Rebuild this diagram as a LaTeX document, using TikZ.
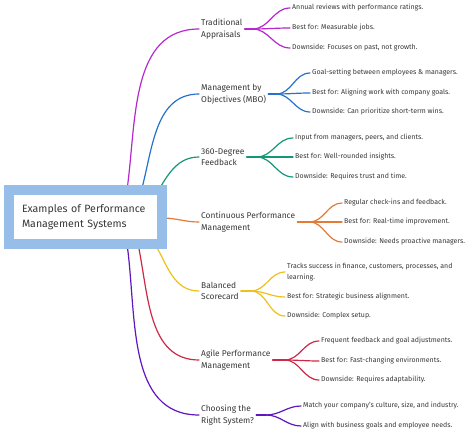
\documentclass[tikz,border=0pt]{standalone}
\usepackage{fontspec}
\setmainfont{Fira Sans}
\usetikzlibrary{backgrounds}
\definecolor{rootBlue}{RGB}{150,190,232}
\definecolor{txtGray}{RGB}{55,55,55}
\definecolor{cTrad}{RGB}{180,40,205}
\definecolor{cMbo}{RGB}{40,112,205}
\definecolor{cDeg}{RGB}{20,150,120}
\definecolor{cCont}{RGB}{228,122,52}
\definecolor{cBsc}{RGB}{238,192,30}
\definecolor{cAgile}{RGB}{205,40,72}
\definecolor{cChoose}{RGB}{95,22,190}

\tikzset{
  rootbox/.style={draw=rootBlue,line width=10pt,fill=white,outer sep=0pt,
    text width=127pt,inner xsep=13pt,minimum height=54pt,align=left,
    text=txtGray,font=\fontsize{10.6}{15}\selectfont},
  cat/.style={anchor=west,align=left,inner sep=2pt,text=txtGray,
    font=\fontsize{8.4}{11.5}\selectfont},
  leaf/.style={anchor=west,align=left,inner sep=2pt,text=txtGray,
    font=\fontsize{7}{10.5}\selectfont},
  branch/.style={line width=1.2pt,line cap=round},
}

\begin{document}
\begin{tikzpicture}[x=1pt,y=-1pt]
  \useasboundingbox (0,0) rectangle (474,434);
  % root
  \node[rootbox] (root) at (85.5,217) {Examples of Performance\\Management Systems};
  % categories
  \node[cat] (trad)   at (199,29)  {Traditional\\Appraisals};
  \node[cat] (mbo)    at (199,94)  {Management by\\Objectives (MBO)};
  \node[cat] (deg)    at (199,157) {360-Degree\\Feedback};
  \node[cat] (cont)   at (199,222) {Continuous Performance\\Management};
  \node[cat] (bsc)    at (199,291) {Balanced\\Scorecard};
  \node[cat] (agile)  at (199,360) {Agile Performance\\Management};
  \node[cat] (choose) at (199,415) {Choosing the\\Right System?};
  % leaves
  \node[leaf] (trad1) at (290,8)  {Annual reviews with performance ratings.};
  \node[leaf] (trad2) at (290,28) {Best for: Measurable jobs.};
  \node[leaf] (trad3) at (290,48) {Downside: Focuses on past, not growth.};
  \node[leaf] (mbo1) at (310,73)  {Goal-setting between employees \& managers.};
  \node[leaf] (mbo2) at (310,93)  {Best for: Aligning work with company goals.};
  \node[leaf] (mbo3) at (310,112) {Downside: Can prioritize short-term wins.};
  \node[leaf] (deg1) at (293,138) {Input from managers, peers, and clients.};
  \node[leaf] (deg2) at (293,157) {Best for: Well-rounded insights.};
  \node[leaf] (deg3) at (293,177) {Downside: Requires trust and time.};
  \node[leaf] (cont1) at (342,203) {Regular check-ins and feedback.};
  \node[leaf] (cont2) at (342,222) {Best for: Real-time improvement.};
  \node[leaf] (cont3) at (342,242) {Downside: Needs proactive managers.};
  \node[leaf] (bsc1) at (285,272) {Tracks success in finance, customers, processes, and\\learning.};
  \node[leaf] (bsc2) at (285,297) {Best for: Strategic business alignment.};
  \node[leaf] (bsc3) at (285,316) {Downside: Complex setup.};
  \node[leaf] (agile1) at (319,341) {Frequent feedback and goal adjustments.};
  \node[leaf] (agile2) at (319,361) {Best for: Fast-changing environments.};
  \node[leaf] (agile3) at (319,380) {Downside: Requires adaptability.};
  \node[leaf] (choose1) at (301,406) {Match your company's culture, size, and industry.};
  \node[leaf] (choose2) at (301,426) {Align with business goals and employee needs.};
  % branches from root
  \begin{scope}[on background layer]
    \draw[branch,cTrad]   ([xshift=41.5pt]root.north) to[out=82,in=180] (trad.west);
    \draw[branch,cMbo]    ([xshift=56pt]root.north) to[out=75,in=180] (mbo.west);
    \draw[branch,cDeg]    ([xshift=-5pt,yshift=-3pt]root.north east) to[out=60,in=180] (deg.west);
    \draw[branch,cCont]   ([yshift=-1pt]root.east) to[out=0,in=180] (cont.west);
    \draw[branch,cBsc]    ([xshift=-7pt]root.south east) to[out=-60,in=180] (bsc.west);
    \draw[branch,cAgile]  ([xshift=52.5pt]root.south) to[out=-78,in=180] (agile.west);
    \draw[branch,cChoose] ([xshift=41.5pt]root.south) to[out=-82,in=180] (choose.west);
  \end{scope}
  % forks to leaves
  \draw[branch,cTrad] (trad.east) -- ++(8,0) coordinate (ftrad);
  \foreach \l in {trad1,trad2,trad3} \draw[branch,cTrad] (ftrad) to[out=0,in=180] (\l.west);
  \draw[branch,cMbo] (mbo.east) -- ++(8,0) coordinate (fmbo);
  \foreach \l in {mbo1,mbo2,mbo3} \draw[branch,cMbo] (fmbo) to[out=0,in=180] (\l.west);
  \draw[branch,cDeg] (deg.east) -- ++(10,0) coordinate (fdeg);
  \foreach \l in {deg1,deg2,deg3} \draw[branch,cDeg] (fdeg) to[out=0,in=180] (\l.west);
  \draw[branch,cCont] (cont.east) -- ++(12,0) coordinate (fcont);
  \foreach \l in {cont1,cont2,cont3} \draw[branch,cCont] (fcont) to[out=0,in=180] (\l.west);
  \draw[branch,cBsc] (bsc.east) -- ++(10,0) coordinate (fbsc);
  \foreach \l in {bsc1,bsc2,bsc3} \draw[branch,cBsc] (fbsc) to[out=0,in=180] (\l.west);
  \draw[branch,cAgile] (agile.east) -- ++(12,0) coordinate (fagile);
  \foreach \l in {agile1,agile2,agile3} \draw[branch,cAgile] (fagile) to[out=0,in=180] (\l.west);
  \draw[branch,cChoose] (choose.east) -- ++(10,0) coordinate (fchoose);
  \foreach \l in {choose1,choose2} \draw[branch,cChoose] (fchoose) to[out=0,in=180] (\l.west);
\end{tikzpicture}
\end{document}
